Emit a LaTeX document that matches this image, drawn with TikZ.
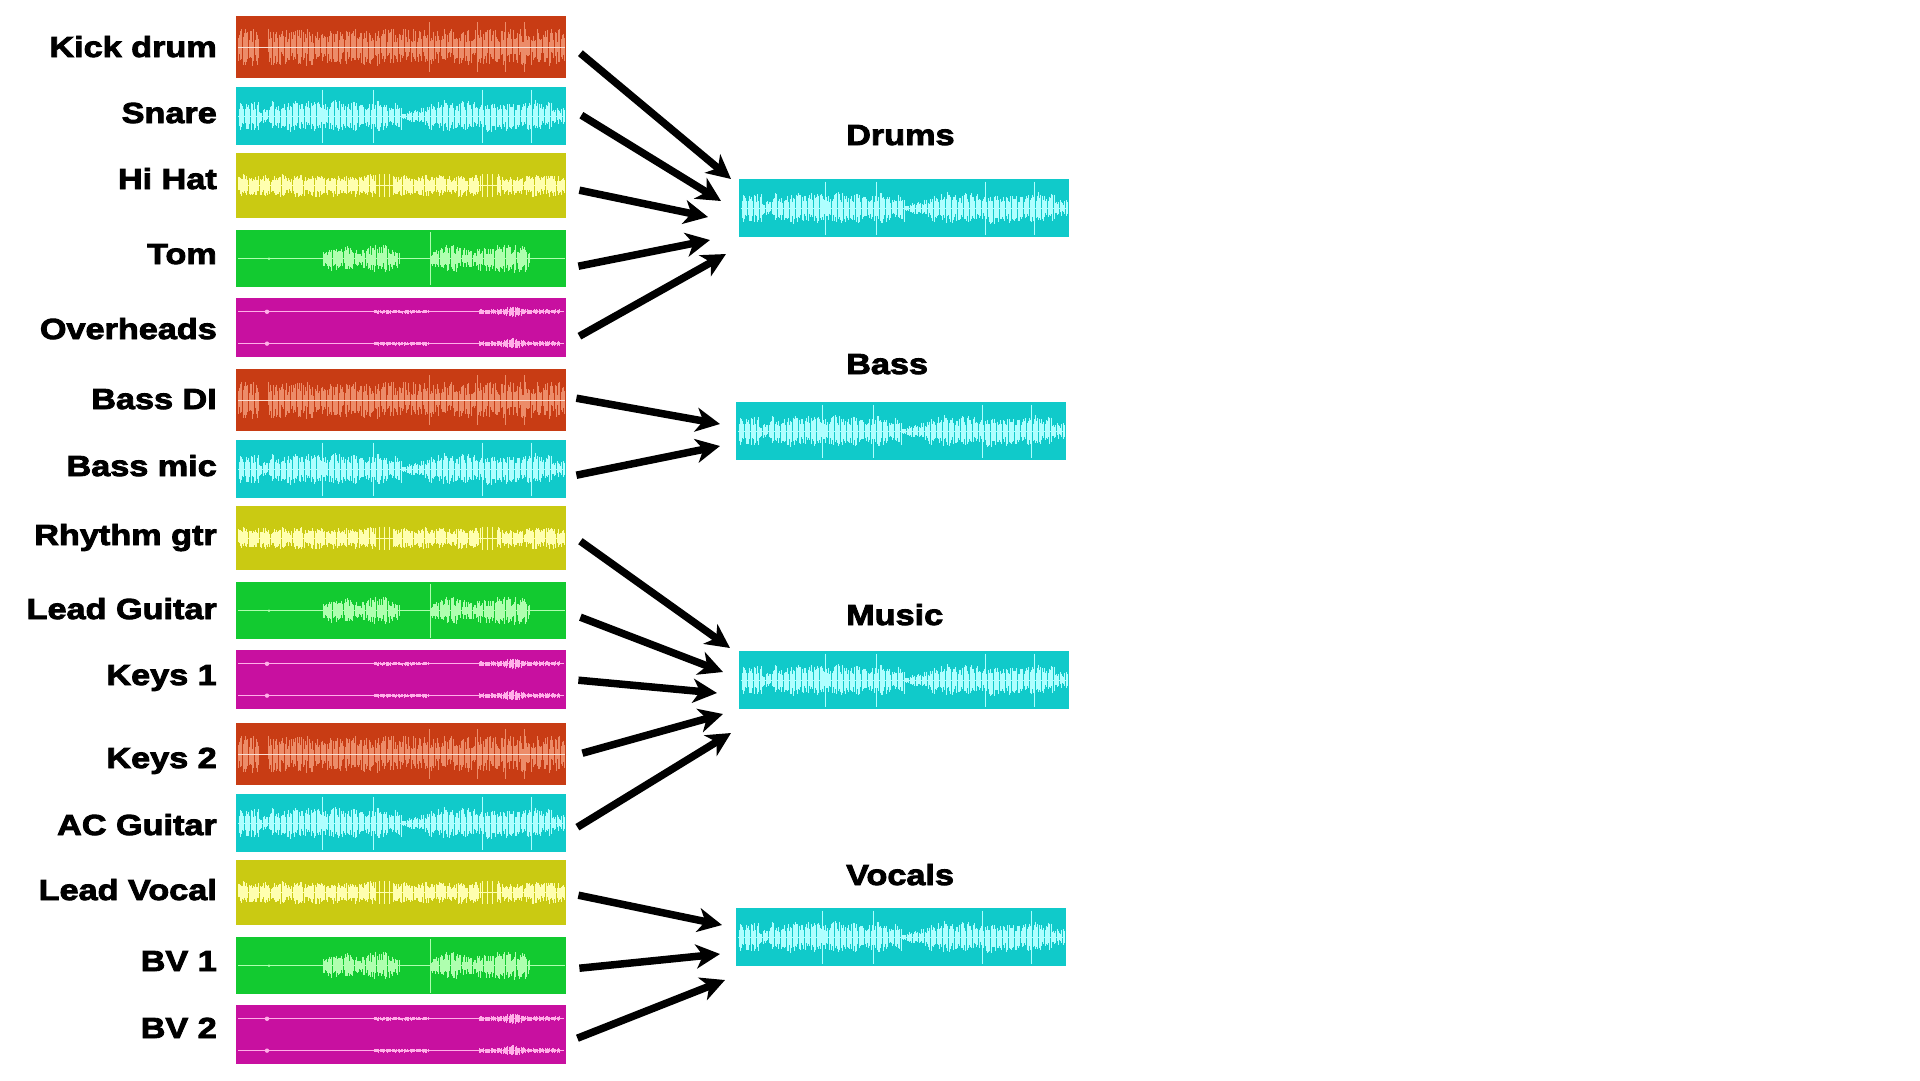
\documentclass[tikz,border=0pt]{standalone}
\usepackage{fontspec}
\setmainfont{Liberation Sans}
\newfontfamily\labfont{Liberation Sans}[BoldFeatures={FakeStretch=1.18,FakeBold=3}]
\usetikzlibrary{arrows.meta}
\definecolor{corange}{RGB}{200,60,20}
\definecolor{ccyan}{RGB}{16,202,202}
\definecolor{cyellow}{RGB}{202,202,18}
\definecolor{cgreen}{RGB}{18,202,48}
\definecolor{cmag}{RGB}{200,16,160}
\definecolor{worange}{RGB}{236,140,105}
\definecolor{wcyan}{RGB}{175,255,255}
\definecolor{wyellow}{RGB}{255,255,175}
\definecolor{wgreen}{RGB}{175,255,175}
\definecolor{wmag}{RGB}{255,175,232}

% waveform drawers, local coords: x 0..330 from west anchor, y centred
\newcommand\wavecyan[1]{%
  \pgfmathsetseed{7}%
  \draw[wcyan, line width=0.6pt] (2,0) -- (329,0);
  \draw[wcyan, line width=0.9pt] foreach \i in {3,4.2,...,329}
    {({\i},{-(#1)*envc(\i/330)*(0.4+0.6*rnd)}) -- ({\i},{(#1)*envc(\i/330)*(0.4+0.6*rnd)})};
  \draw[wcyan, line width=0.6pt] foreach \f in {0.26,0.415,0.745,0.895}
    {({\f*330},{-0.46*(#1)}) -- ({\f*330},{0.46*(#1)})};
}
\newcommand\waveorange[1]{%
  \pgfmathsetseed{3}%
  \draw[worange, line width=0.55pt] foreach \i in {2,3.2,...,329}
    {({\i},{-(#1)*envo(\i/330)*(0.25+0.75*rnd)}) -- ({\i},{(#1)*envo(\i/330)*(0.25+0.75*rnd)})};
  \draw[worange, line width=0.6pt] foreach \f in {0.585,0.73,0.815,0.875}
    {({\f*330},{-0.4*(#1)}) -- ({\f*330},{0.4*(#1)})};
  \draw[white!70!worange, line width=1.2pt] (2,0) -- (329,0);
}
\newcommand\waveyellow[1]{%
  \pgfmathsetseed{5}%
  \draw[wyellow, line width=0.6pt] (2,0) -- (329,0);
  \draw[wyellow, line width=0.9pt] foreach \i in {2,3.1,...,329}
    {({\i},{-(#1)*envy(\i/330)*(0.4+0.6*rnd)}) -- ({\i},{(#1)*envy(\i/330)*(0.4+0.6*rnd)})};
  \draw[wyellow, line width=1.2pt] foreach \f in {0.435,0.45,0.465,0.748,0.762,0.778}
    {({\f*330},{-0.18*(#1)}) -- ({\f*330},{0.18*(#1)})};
}
\newcommand\wavegreen[1]{%
  \pgfmathsetseed{9}%
  \draw[wgreen, line width=0.8pt] (2,0) -- (329,0);
  \fill[wgreen] (33,0) circle (1.3pt);
  \draw[wgreen, line width=0.8pt] foreach \i in {87,88.1,...,163}
    {({\i},{-(#1)*envg(\i/330)*(0.3+0.7*rnd)}) -- ({\i},{(#1)*envg(\i/330)*(0.3+0.7*rnd)})};
  \draw[wgreen, line width=0.8pt] foreach \i in {194,195.1,...,294}
    {({\i},{-(#1)*envg(\i/330)*(0.3+0.7*rnd)}) -- ({\i},{(#1)*envg(\i/330)*(0.3+0.7*rnd)})};
  \draw[wgreen, line width=0.6pt] (194,{-0.47*(#1)}) -- (194,{0.47*(#1)});
}
\newcommand\wavemag[1]{%
  \pgfmathsetseed{13}%
  \foreach \s in {-1,1}{%
    \draw[wmag, line width=0.6pt] (2,{\s*0.27*(#1)}) -- (328,{\s*0.27*(#1)});
    \fill[wmag] (31,{\s*0.27*(#1)}) circle (2.2pt);
    \draw[wmag, line width=1pt] foreach \i in {138,139.2,...,192}
      {({\i},{\s*0.27*(#1)-(#1)*envm(\i/330)*(0.5+0.5*rnd)}) -- ({\i},{\s*0.27*(#1)+(#1)*envm(\i/330)*(0.5+0.5*rnd)})};
    \draw[wmag, line width=1pt] foreach \i in {243,244.2,...,324}
      {({\i},{\s*0.27*(#1)-(#1)*envm(\i/330)*(0.5+0.5*rnd)}) -- ({\i},{\s*0.27*(#1)+(#1)*envm(\i/330)*(0.5+0.5*rnd)})};
  }%
}

% track: name, top, bottom, type, label, baseline
\newcommand\track[6]{%
  \node[trk, fill=c#4, minimum height={#3-#2}] (#1) at (236,#2) {};
  \begin{scope}[shift={(#1.west)}]\csname wave#4\endcsname{(#3-#2)}\end{scope}
  \node[lab] (#1-l) at (217,#6) {#5};
}
% output: name, left, top, label, baseline
\newcommand\outbox[5]{%
  \node[trk, fill=ccyan, minimum height=58] (#1) at (#2,#3) {};
  \begin{scope}[shift={(#1.west)}]\wavecyan{58}\end{scope}
  \node[olab] (#1-l) at (846,#5) {#4};
}

\begin{document}
\begin{tikzpicture}[x=1pt,y=-1pt,
  declare function={
    envc(\x)=(\x<0.07) ? 0.25 : ((\x<0.1) ? 0.12 : ((\x<0.5) ? 0.2+0.08*abs(sin(\x*2700)) :
             ((\x<0.585) ? 0.05+(\x-0.5)*1.6 : ((\x<0.955) ? 0.2+0.08*abs(sin(\x*2700)) : 0.14))));
    envo(\x)=(\x<0.07) ? 0.3 : ((\x<0.095) ? 0.0 : 0.3);
    envy(\x)=((\x>0.425 && \x<0.475) || (\x>0.74 && \x<0.79)) ? 0.0 : 0.13+0.05*abs(sin(\x*3300));
    envg(\x)=(\x<0.49) ? 0.14+0.12*abs(sin((\x-0.265)*1600)) : 0.14+0.1*abs(sin((\x-0.59)*1500))+0.1*exp(-((\x-0.83)/0.03)^2);
    envm(\x)=(\x<0.6) ? 0.035 : 0.045+0.06*exp(-((\x-0.84)/0.025)^2);
  },
  trk/.style={rectangle, inner sep=0pt, minimum width=330, anchor=north west},
  lab/.style={anchor=base east, inner sep=0pt, font=\labfont\bfseries\fontsize{29}{33}\selectfont},
  olab/.style={anchor=base west, inner sep=0pt, font=\labfont\bfseries\fontsize{29}{33}\selectfont},
  arr/.style={line width=7.5pt, -{Stealth[length=24pt,width=24pt,inset=7pt]}},
]
\useasboundingbox (0,0) rectangle (1920,1080);

\track{kick}{16}{78}{orange}{Kick drum}{57}
\track{snare}{87}{145}{cyan}{Snare}{123}
\track{hihat}{153}{218}{yellow}{Hi Hat}{189}
\track{tom}{230}{287}{green}{Tom}{264}
\track{over}{298}{357}{mag}{Overheads}{339}
\track{bassdi}{369}{431}{orange}{Bass DI}{409}
\track{bassmic}{440}{498}{cyan}{Bass mic}{476}
\track{rhythm}{506}{570}{yellow}{Rhythm gtr}{545}
\track{leadg}{582}{639}{green}{Lead Guitar}{619}
\track{keys1}{650}{709}{mag}{Keys 1}{685}
\track{keys2}{723}{785}{orange}{Keys 2}{768}
\track{acg}{794}{852}{cyan}{AC Guitar}{835}
\track{leadv}{860}{925}{yellow}{Lead Vocal}{900}
\track{bv1}{937}{994}{green}{BV 1}{971}
\track{bv2}{1005}{1064}{mag}{BV 2}{1038}

\outbox{drums}{739}{179}{Drums}{145}
\outbox{bass}{736}{402}{Bass}{374}
\outbox{music}{739}{651}{Music}{625}
\outbox{vocals}{736}{908}{Vocals}{885}

\coordinate (d1) at (731,179);
\coordinate (d2) at (721,201);
\coordinate (d3) at (708,217);
\coordinate (d4) at (710,240);
\coordinate (d5) at (726,254);
\coordinate (b1) at (720,424);
\coordinate (b2) at (720,446);
\coordinate (m1) at (730,648);
\coordinate (m2) at (723,672);
\coordinate (m3) at (717,693);
\coordinate (m4) at (723,714);
\coordinate (m5) at (731,733);
\coordinate (v1) at (722,925);
\coordinate (v2) at (720,954);
\coordinate (v3) at (725,980);

\draw[arr] ([shift={(14,6)}]kick.east) -- (d1);
\draw[arr] ([shift={(15,-1)}]snare.east) -- (d2);
\draw[arr] ([shift={(13,4.5)}]hihat.east) -- (d3);
\draw[arr] ([shift={(12,7.5)}]tom.east) -- (d4);
\draw[arr] ([shift={(13,8.5)}]over.east) -- (d5);
\draw[arr] ([shift={(10,-2)}]bassdi.east) -- (b1);
\draw[arr] ([shift={(10,6)}]bassmic.east) -- (b2);
\draw[arr] ([shift={(14,3)}]rhythm.east) -- (m1);
\draw[arr] ([shift={(14,6.5)}]leadg.east) -- (m2);
\draw[arr] ([shift={(12,0.5)}]keys1.east) -- (m3);
\draw[arr] ([shift={(16,-1)}]keys2.east) -- (m4);
\draw[arr] ([shift={(11,4)}]acg.east) -- (m5);
\draw[arr] ([shift={(12,2.5)}]leadv.east) -- (v1);
\draw[arr] ([shift={(13,2.5)}]bv1.east) -- (v2);
\draw[arr] ([shift={(11,3.5)}]bv2.east) -- (v3);
\end{tikzpicture}
\end{document}
